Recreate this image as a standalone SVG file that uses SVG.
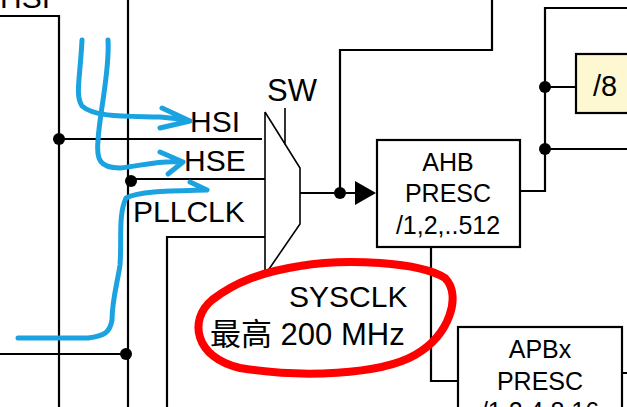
<svg xmlns="http://www.w3.org/2000/svg" width="627" height="407" viewBox="0 0 627 407">
<style>
.w{stroke:#000;stroke-width:2.2;fill:none}
.t{font-family:"Liberation Sans","Noto Sans CJK SC",sans-serif;fill:#000}
.box{fill:#fff;stroke:#000;stroke-width:2.2}
.dot{fill:#000}
.b{stroke:#1aa3e0;stroke-width:5;fill:none;stroke-linecap:round;stroke-linejoin:round}
</style>
<rect width="627" height="407" fill="#fff"/>
<g id="connectors">
<path class="w" d="M0 16H59V407M59 139H262M128 0V407M130 179H265M0 354H126M167 407V237H265M300 193H356M340 193V50H492V0M520 191H545V8H627M545 87H576M545 149H627M431 244V381H458M622 373H627"/>
<polygon points="355,181 376,193 355,205" class="dot"/>
<circle class="dot" cx="59" cy="139" r="6"/>
<circle class="dot" cx="131" cy="181" r="6"/>
<circle class="dot" cx="126" cy="354" r="6"/>
<circle class="dot" cx="340" cy="193" r="6"/>
<circle class="dot" cx="545" cy="87" r="6"/>
<circle class="dot" cx="545" cy="149" r="6"/>
</g>
<text class="t" x="0" y="8" font-size="30">HSI</text>
<g id="mux">
<path d="M265 112L300 168V224L267 272M265 112V272M285 108V145" stroke="#000" stroke-width="1.6" fill="none"/>
<text class="t" x="267" y="101" font-size="31">SW</text>
</g>
<g id="labels">
<text class="t" x="190" y="132" font-size="30">HSI</text>
<text class="t" x="184" y="171" font-size="30">HSE</text>
<text class="t" x="133" y="222" font-size="30">PLLCLK</text>
</g>
<g id="ahb">
<rect class="box" x="377" y="140" width="143" height="107"/>
<text class="t" x="448" y="171" font-size="25" text-anchor="middle">AHB</text>
<text class="t" x="448" y="202" font-size="25" text-anchor="middle">PRESC</text>
<text class="t" x="448" y="234" font-size="25" text-anchor="middle">/1,2,..512</text>
</g>
<g id="div8">
<rect x="576" y="54" width="60" height="59" fill="#fdf7d2" stroke="#000" stroke-width="2.2"/>
<text class="t" x="593" y="96" font-size="29">/8</text>
</g>
<g id="apb">
<rect class="box" x="458" y="327" width="164" height="100"/>
<text class="t" x="540" y="358" font-size="25" text-anchor="middle">APBx</text>
<text class="t" x="540" y="390" font-size="25" text-anchor="middle">PRESC</text>
<text class="t" x="540" y="420" font-size="25" text-anchor="middle">/1,2,4,8,16</text>
</g>
<g id="annot">
<path class="b" d="M82 40C80 80 75 95 82 106C95 118 130 116 160 117C175 118 185 120 190 121M162 108L190 121L160 128"/>
<path class="b" d="M108 40C110 70 100 110 98 140C96 160 100 168 120 168C140 166 160 160 180 162M160 152L183 162L168 174"/>
<path class="b" d="M18 338H88C105 336 110 332 112 320C112 300 118 280 120 265C122 240 118 215 126 198C140 191 170 191 207 190M190 182L207 190"/>
<path d="M300 266C345 258 420 262 445 278C462 295 450 335 415 355C380 375 300 378 240 368C195 358 188 320 212 300C235 282 262 272 300 266" stroke="#f00" stroke-width="8" fill="none"/>
<text class="t" x="289" y="307" font-size="30">SYSCLK</text>
<text class="t" x="210" y="345" font-size="31">最高 200 MHz</text>
</g>
</svg>
